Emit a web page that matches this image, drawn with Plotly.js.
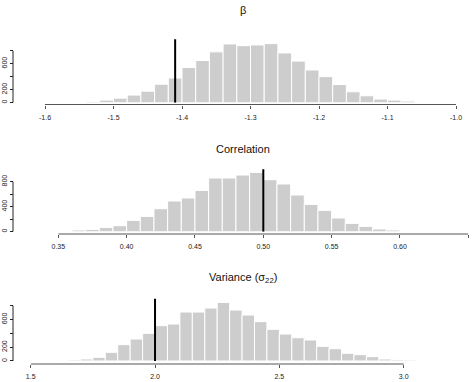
<!DOCTYPE html>
<html>
<head>
<meta charset="utf-8">
<script src="https://cdn.plot.ly/plotly-3.0.1.min.js"></script>
<style>html,body{margin:0;padding:0;background:#fff;}#chart{width:474px;height:382px;}</style>
</head>
<body>
<div id="chart"></div>
<script>
// ---- Data ----
const betaEdges = [-1.54,-1.52,-1.50,-1.48,-1.46,-1.44,-1.42,-1.40,-1.38,-1.36,-1.34,-1.32,-1.30,-1.28,-1.26,-1.24,-1.22,-1.20,-1.18,-1.16,-1.14,-1.12,-1.10,-1.08];
const betaCounts = [20,40,70,117,178,284,380,543,650,782,904,878,888,909,766,640,503,401,279,168,107,56,40,25];
const betaTrue = -1.41;
const betaTickVals = [-1.6,-1.5,-1.4,-1.3,-1.2,-1.1,-1.0];
const betaTickText = ['-1.6','-1.5','-1.4','-1.3','-1.2','-1.1','-1.0'];

const corrEdges = [0.36,0.37,0.38,0.39,0.40,0.41,0.42,0.43,0.44,0.45,0.46,0.47,0.48,0.49,0.50,0.51,0.52,0.53,0.54,0.55,0.56,0.57,0.58,0.59];
const corrCounts = [27,37,69,96,181,245,368,491,539,661,859,859,907,949,832,763,587,437,341,219,133,85,43,27];
const corrTrue = 0.50;
const corrTickVals = [0.35,0.40,0.45,0.50,0.55,0.60,0.65];
const corrTickText = ['0.35','0.40','0.45','0.50','0.55','0.60','0.65'];

const varEdges = [1.60,1.65,1.70,1.75,1.80,1.85,1.90,1.95,2.00,2.05,2.10,2.15,2.20,2.25,2.30,2.35,2.40,2.45,2.50,2.55,2.60,2.65,2.70,2.75,2.80,2.85,2.90,2.95,3.00,3.05,3.10];
const varCounts = [5,15,29,53,125,236,318,400,511,535,708,708,766,848,737,665,569,458,390,337,304,212,178,111,92,63,29,19,14,5,5];
const varTrue = 2.0;
const varTickVals = [1.5,2.0,2.5,3.0];
const varTickText = ['1.5','2.0','2.5','3.0'];

const yTickVals = [0,200,400,600,800];
const yLabelValsA = [0,200,600];
const yLabelValsB = [0,400,800];

const titles = ['\u03B2', 'Correlation', 'Variance (\u03C3<sub>22</sub>)'];

// ---- Build ----
const W = 474, H = 382;
const FONT = 'Liberation Sans, Arial, Helvetica, sans-serif';
const YTOP = 1050; // count at top of each data area
const yAxisMax = yTickVals[yTickVals.length - 1];
const panels = [
  {edges: betaEdges, counts: betaCounts, bw: 0.02, vline: betaTrue, vtop: 975,
   axis: [-1.6,-1.0], range: [-1.6,-1.0], tv: betaTickVals, tt: betaTickText, yl: yLabelValsA,
   xpx: [45, 456], ypx: [102.7, 50.7], axPx: 104.5, titleY: 10},
  {edges: corrEdges, counts: corrCounts, bw: 0.01, vline: corrTrue, vtop: 1000,
   axis: [0.35,0.65], range: [0.35,0.65], tv: corrTickVals, tt: corrTickText, yl: yLabelValsB,
   xpx: [58.3, 468.3], ypx: [231.7, 181.7], axPx: 234, titleY: 149},
  {edges: varEdges, counts: varCounts, bw: 0.05, vline: varTrue, vtop: 900,
   axis: [1.5,3.0], range: [1.5,3.2], tv: varTickVals, tt: varTickText, yl: yLabelValsA,
   xpx: [30.7, 403.7], ypx: [361, 305.7], axPx: 364, titleY: 278}
];

const data = [];
const layout = {
  width: W, height: H,
  margin: {l:0, r:0, t:0, b:0},
  paper_bgcolor: '#fff', plot_bgcolor: 'rgba(0,0,0,0)',
  showlegend: false, bargap: 0,
  font: {family: FONT, color: '#222'},
  annotations: [], shapes: []
};

panels.forEach((p, i) => {
  const n = i === 0 ? '' : String(i + 1);
  const xa = 'x' + n, ya = 'y' + n;
  const pxPerX = (p.xpx[1] - p.xpx[0]) / (p.axis[1] - p.axis[0]);
  const xEndPx = p.xpx[0] + (p.range[1] - p.range[0]) * pxPerX;
  const pxPerY = (p.ypx[0] - p.ypx[1]) / yAxisMax;
  const yTopPx = p.ypx[0] - YTOP * pxPerY;
  const axPos = 1 - p.axPx / H;

  data.push({
    type: 'bar', x: p.edges, y: p.counts, width: p.bw, offset: 0,
    xaxis: xa, yaxis: ya,
    marker: {color: '#cdcdcd', line: {color: '#ffffff', width: 1}},
    hoverinfo: 'x+y'
  });
  data.push({
    type: 'scatter', mode: 'lines', x: [p.vline, p.vline], y: [0, p.vtop],
    xaxis: xa, yaxis: ya, cliponaxis: false,
    line: {color: '#000', width: 2}
  });
  layout['xaxis' + n] = {
    domain: [p.xpx[0] / W, xEndPx / W], range: p.range,
    anchor: 'free', position: axPos,
    showline: false,
    ticks: 'outside', ticklen: 3, tickcolor: '#555', tickwidth: 1,
    ticklabelstandoff: 3,
    tickmode: 'array', tickvals: p.tv, ticktext: p.tt,
    tickfont: {size: 7, color: '#222', family: FONT},
    showgrid: false, zeroline: false, fixedrange: true
  };
  layout['yaxis' + n] = {
    domain: [1 - p.ypx[0] / H, 1 - yTopPx / H], range: [0, YTOP],
    anchor: 'free', position: 13 / W,
    showline: false,
    ticks: 'outside', ticklen: 3, tickcolor: '#222', tickwidth: 1,
    tickmode: 'array', tickvals: p.yl, tickangle: -90,
    minor: {tickmode: 'array', tickvals: yTickVals, ticks: 'outside', ticklen: 3, tickcolor: '#222', tickwidth: 1, showgrid: false},
    tickfont: {size: 7, color: '#222', family: FONT},
    showgrid: false, zeroline: false, fixedrange: true
  };
  layout.shapes.push({
    type: 'line', xref: 'paper', yref: ya,
    x0: 13 / W, x1: 13 / W, y0: 0, y1: yAxisMax,
    line: {color: '#222', width: 1}, layer: 'above'
  });
  layout.shapes.push({
    type: 'line', xref: xa, yref: 'paper',
    x0: p.axis[0], x1: p.axis[1], y0: axPos, y1: axPos,
    line: {color: '#555', width: 1}, layer: 'above'
  });
  layout.annotations.push({
    text: titles[i], xref: 'paper', yref: 'paper',
    x: 243 / W, y: 1 - p.titleY / H, xanchor: 'center', yanchor: 'middle',
    showarrow: false, font: {size: 11, color: '#111', family: FONT}
  });
});

Plotly.newPlot('chart', data, layout, {displayModeBar: false, staticPlot: true});
</script>
</body>
</html>
